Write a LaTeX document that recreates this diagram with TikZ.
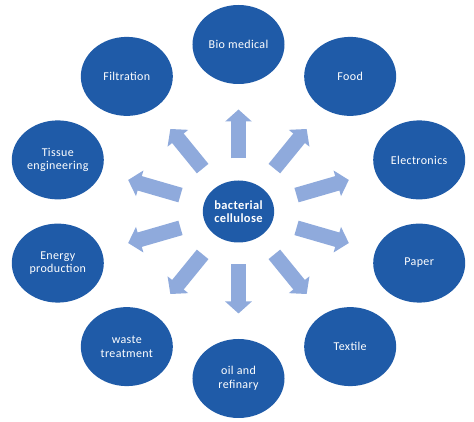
\documentclass[tikz,border=0pt]{standalone}
\usepackage{fontspec}
\setmainfont{Carlito}[LetterSpace=3]
\usepackage{tikz}
\usetikzlibrary{shapes.geometric}
\usetikzlibrary{arrows.meta}

\definecolor{bcblue}{HTML}{1F5BA8}
\definecolor{bcarrow}{HTML}{8FAADC}

\tikzset{
  usebox/.style={ellipse, fill=bcblue, text=white, align=center,
    minimum width=92pt, minimum height=79pt, inner sep=1pt,
    font=\fontsize{12}{13.5}\selectfont},
  corebox/.style={ellipse, fill=bcblue, text=white, align=center,
    minimum width=70pt, minimum height=62pt, inner sep=1pt,
    font=\fontsize{12.5}{13.5}\selectfont\bfseries},
  fatarrow/.style={draw=bcarrow, line width=15pt,
    -{Triangle[width=26pt, length=12pt]}}
}

\begin{document}
\begin{tikzpicture}
                \useasboundingbox (-238.5pt,-210.5pt) rectangle (235.5pt,211.5pt);

                % Centre
                \node[corebox] (bc) at (0,0) {bacterial\\cellulose};

                % Applications - ring of ellipses
                \node[usebox] (bio) at (90:190pt and 167pt) {Bio medical};
                \node[usebox] (food) at (54:190pt and 167pt) {Food};
                \node[usebox] (elec) at (18:190pt and 167pt) {Electronics};
                \node[usebox] (paper) at (-18:190pt and 167pt) {Paper};
                \node[usebox] (text) at (-54:190pt and 167pt) {Textile};
                \node[usebox] (oil) at (-90:190pt and 167pt) {oil and\\refinary};
                \node[usebox] (waste) at (-126:190pt and 167pt) {waste\\treatment};
                \node[usebox] (energy) at (-162:190pt and 167pt) {Energy\\production};
                \node[usebox] (tissue) at (162:190pt and 167pt) {Tissue\\engineering};
                \node[usebox] (filt) at (126:190pt and 167pt) {Filtration};

                % Arrows - start and end points
                \coordinate (bio-in) at (90:61pt and 53pt);
                \coordinate (bio-out) at (90:116pt and 102pt);
                \coordinate (food-in) at (54:61pt and 53pt);
                \coordinate (food-out) at (54:116pt and 102pt);
                \coordinate (elec-in) at (18:61pt and 53pt);
                \coordinate (elec-out) at (18:116pt and 102pt);
                \coordinate (paper-in) at (-18:61pt and 53pt);
                \coordinate (paper-out) at (-18:116pt and 102pt);
                \coordinate (text-in) at (-54:61pt and 53pt);
                \coordinate (text-out) at (-54:116pt and 102pt);
                \coordinate (oil-in) at (-90:61pt and 53pt);
                \coordinate (oil-out) at (-90:116pt and 102pt);
                \coordinate (waste-in) at (-126:61pt and 53pt);
                \coordinate (waste-out) at (-126:116pt and 102pt);
                \coordinate (energy-in) at (-162:61pt and 53pt);
                \coordinate (energy-out) at (-162:116pt and 102pt);
                \coordinate (tissue-in) at (162:61pt and 53pt);
                \coordinate (tissue-out) at (162:116pt and 102pt);
                \coordinate (filt-in) at (126:61pt and 53pt);
                \coordinate (filt-out) at (126:116pt and 102pt);

                % Arrows
                \draw[fatarrow] (bio-in) -- (bio-out);
                \draw[fatarrow] (food-in) -- (food-out);
                \draw[fatarrow] (elec-in) -- (elec-out);
                \draw[fatarrow] (paper-in) -- (paper-out);
                \draw[fatarrow] (text-in) -- (text-out);
                \draw[fatarrow] (oil-in) -- (oil-out);
                \draw[fatarrow] (waste-in) -- (waste-out);
                \draw[fatarrow] (energy-in) -- (energy-out);
                \draw[fatarrow] (tissue-in) -- (tissue-out);
                \draw[fatarrow] (filt-in) -- (filt-out);
            \end{tikzpicture}
\end{document}
